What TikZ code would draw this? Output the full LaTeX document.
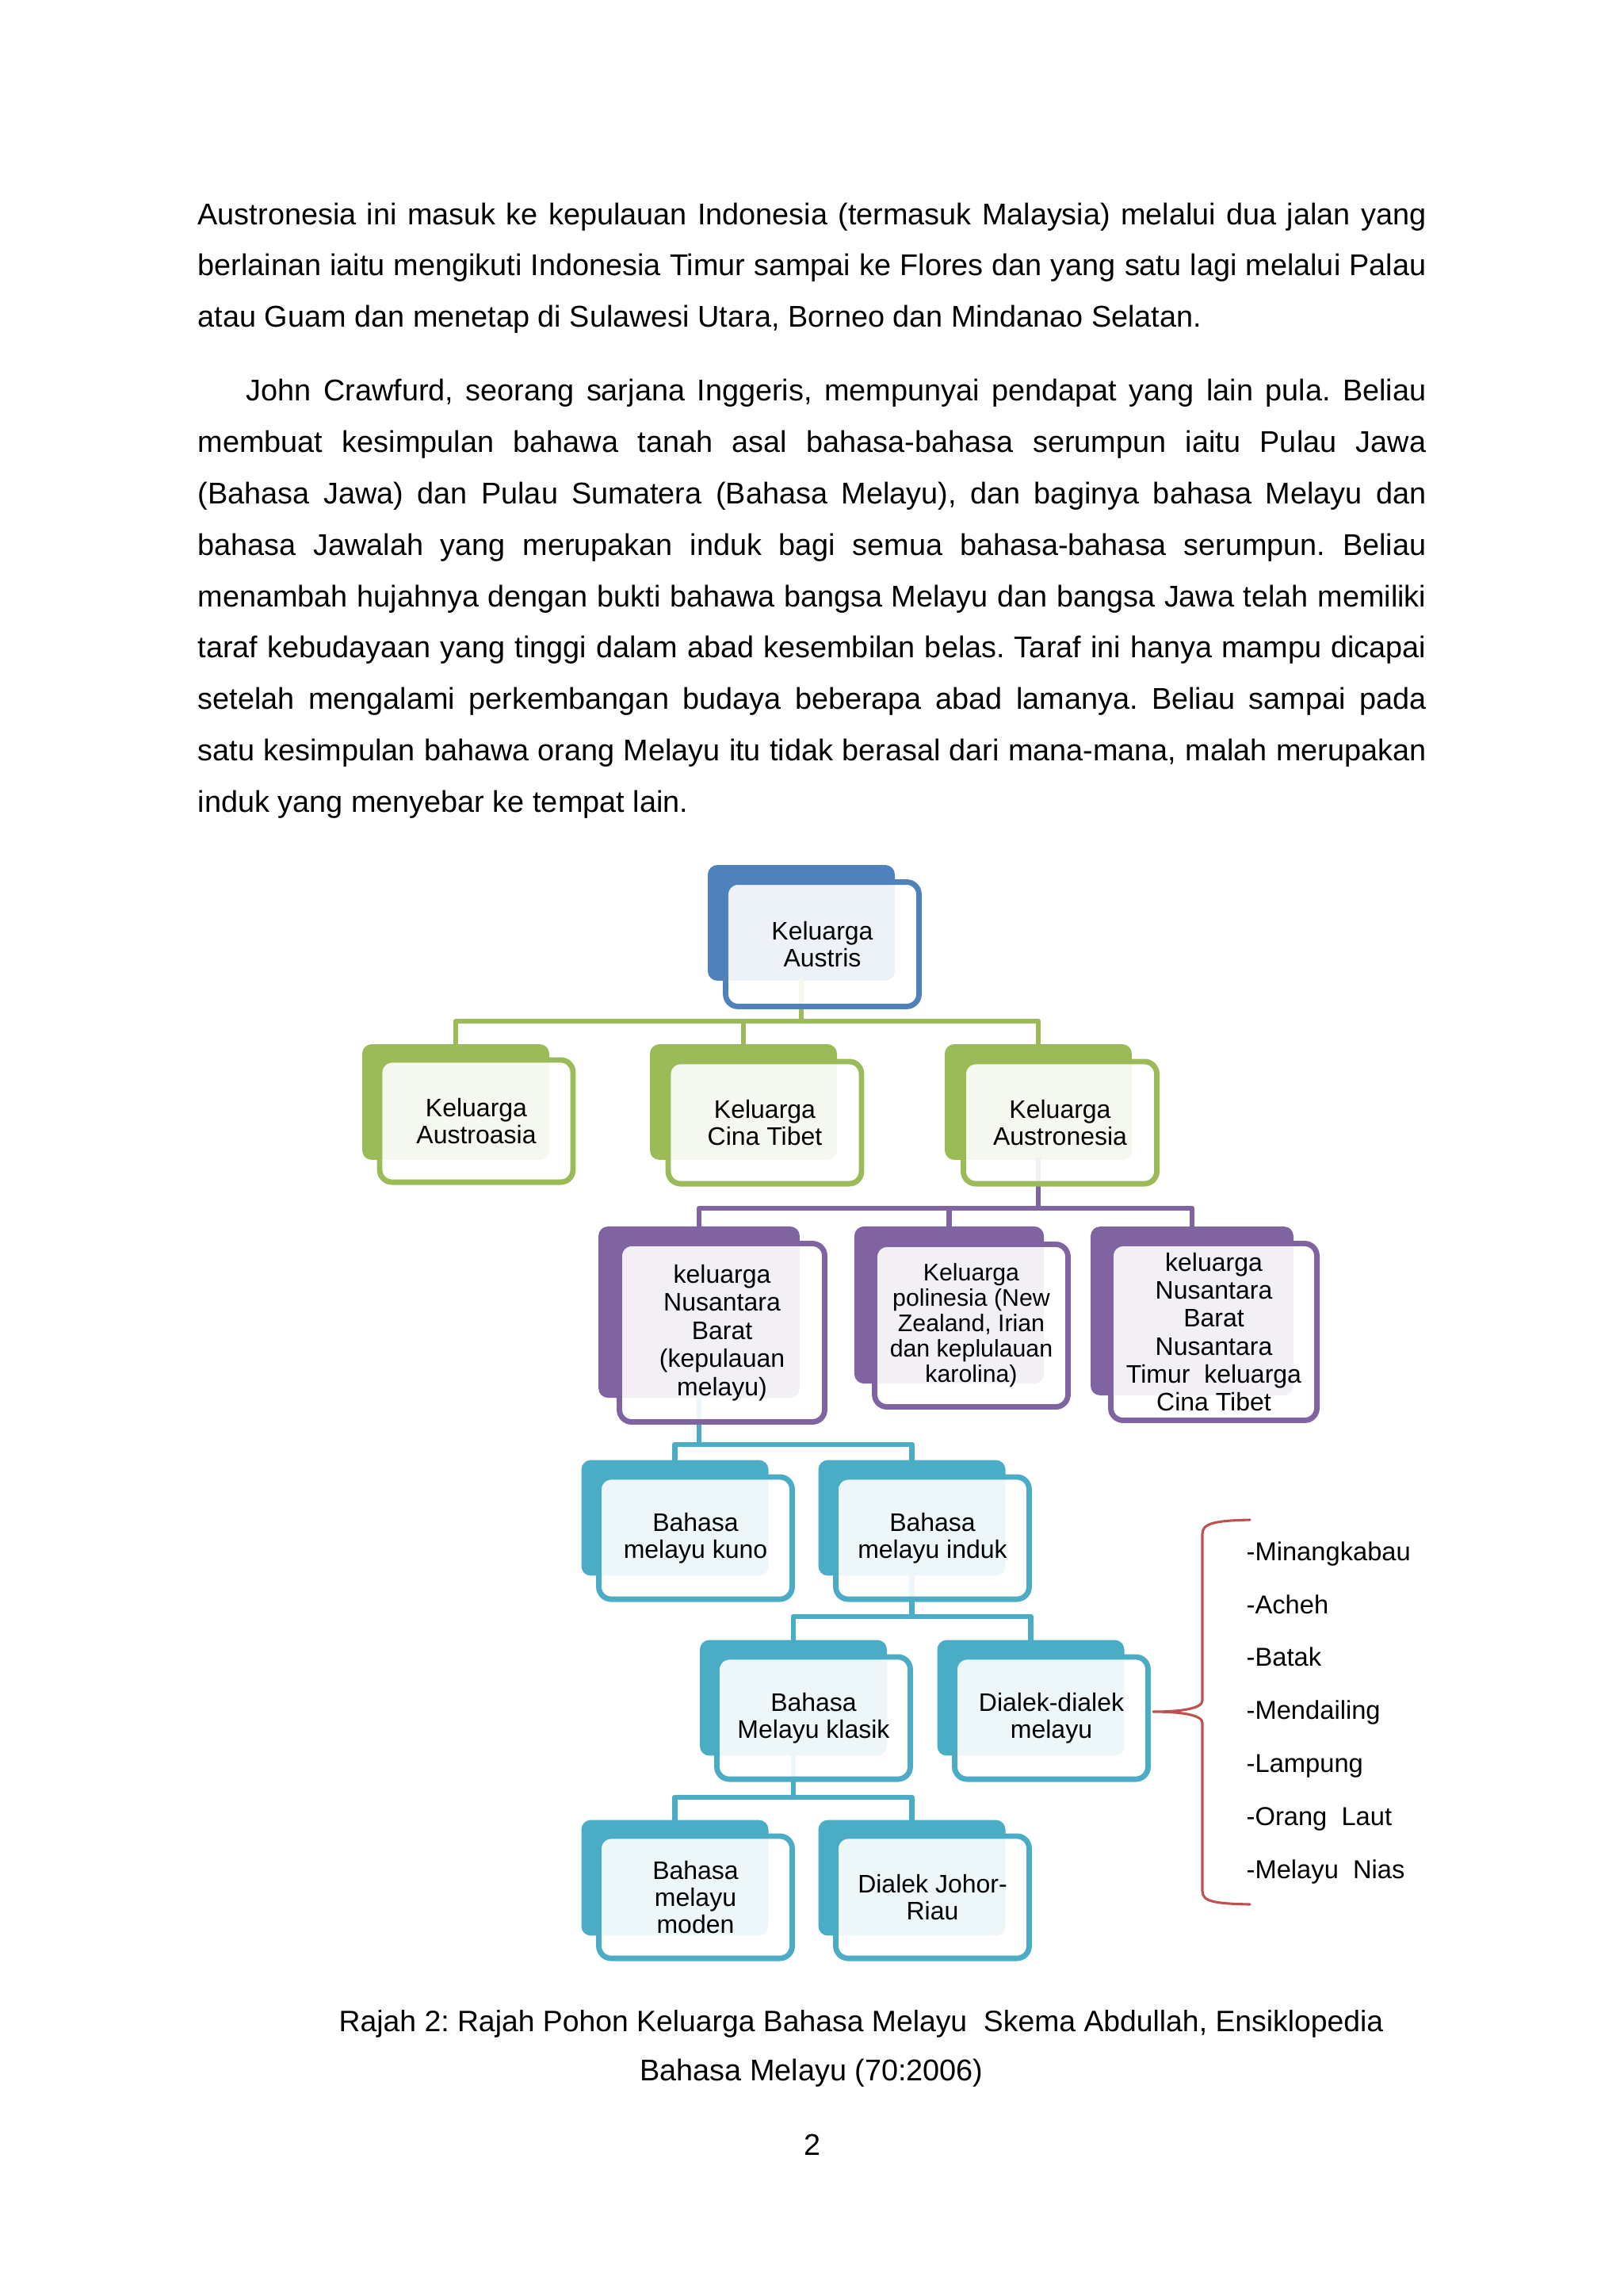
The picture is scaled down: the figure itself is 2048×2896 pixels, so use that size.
\documentclass[tikz,border=0pt]{standalone}
\usepackage{fontspec}
\setmainfont{Liberation Sans}
\usepackage{tikz}
\usetikzlibrary{positioning}
\definecolor{austblue}{rgb}{0.3098,0.5059,0.7412}
\definecolor{famgreen}{rgb}{0.6078,0.7333,0.3490}
\definecolor{nusviolet}{rgb}{0.5020,0.3922,0.6353}
\definecolor{melaqua}{rgb}{0.2941,0.6745,0.7765}
\definecolor{dialred}{rgb}{0.7529,0.3137,0.3020}
\frenchspacing
\begin{document}
\begin{tikzpicture}[line cap=round,line join=round,x=0.29066pt,y=-0.29066pt,
  bodyline/.style={anchor=base west,inner sep=0pt,font=\fontsize{11}{13}\selectfont},
  backbox/.style={fill=#1,rounded corners=3.5pt,inner sep=0pt,minimum width=68.6pt,minimum height=42.4pt},
  frontbox/.style={draw=#1,line width=2pt,fill=white,fill opacity=0.9,text opacity=1,rounded corners=4.5pt,inner sep=0pt,minimum width=70.9pt,minimum height=44.8pt,align=center,font=\fontsize{9.3}{10}\selectfont},
  link/.style={draw=#1,line width=2pt,line cap=rect},
  dialitem/.style={anchor=base west,inner sep=0pt,font=\fontsize{9.5}{11}\selectfont}]
\fill[white] (0,0) rectangle (2048,2896);
\useasboundingbox (0,0) rectangle (2048,2896);
% body text
\node[bodyline] (pa1) at (249,283) {\makebox[450.5pt][s]{Austronesia ini masuk ke kepulauan Indonesia (termasuk Malaysia) melalui dua jalan yang}};
\node[bodyline] (pa2) at (249,347.6) {\makebox[450.5pt][s]{berlainan iaitu mengikuti Indonesia Timur sampai ke Flores dan yang satu lagi melalui Palau}};
\node[bodyline] (pa3) at (249,412.2) {atau Guam dan menetap di Sulawesi Utara, Borneo dan Mindanao Selatan.};
\node[bodyline] (pb1) at (310,505) {\makebox[432.8pt][s]{John Crawfurd, seorang sarjana Inggeris, mempunyai pendapat yang lain pula. Beliau}};
\node[bodyline] (pb2) at (249,570) {\makebox[450.5pt][s]{membuat kesimpulan bahawa tanah asal bahasa-bahasa serumpun iaitu Pulau Jawa}};
\node[bodyline] (pb3) at (249,635) {\makebox[450.5pt][s]{(Bahasa Jawa) dan Pulau Sumatera (Bahasa Melayu), dan baginya bahasa Melayu dan}};
\node[bodyline] (pb4) at (249,700) {\makebox[450.5pt][s]{bahasa Jawalah yang merupakan induk bagi semua bahasa-bahasa serumpun. Beliau}};
\node[bodyline] (pb5) at (249,765) {\makebox[450.5pt][s]{menambah hujahnya dengan bukti bahawa bangsa Melayu dan bangsa Jawa telah memiliki}};
\node[bodyline] (pb6) at (249,829.5) {\makebox[450.5pt][s]{taraf kebudayaan yang tinggi dalam abad kesembilan belas. Taraf ini hanya mampu dicapai}};
\node[bodyline] (pb7) at (249,894) {\makebox[450.5pt][s]{setelah mengalami perkembangan budaya beberapa abad lamanya. Beliau sampai pada}};
\node[bodyline] (pb8) at (249,959) {\makebox[450.5pt][s]{satu kesimpulan bahawa orang Melayu itu tidak berasal dari mana-mana, malah merupakan}};
\node[bodyline] (pb9) at (249,1024) {induk yang menyebar ke tempat lain.};
% back boxes
\node[backbox=austblue] (austrisb) at (1011,1164) {};
\node[backbox=famgreen] (austroasiab) at (575,1390) {};
\node[backbox=famgreen] (cinatibetb) at (938,1390) {};
\node[backbox=famgreen] (austronesiab) at (1310,1390) {};
\node[backbox=nusviolet,minimum width=73.8pt,minimum height=62.8pt] (nusbaratb) at (882,1655) {};
\node[backbox=nusviolet,minimum width=69.5pt,minimum height=57.6pt] (polinesiab) at (1197.5,1646) {};
\node[backbox=nusviolet,minimum width=74.4pt,minimum height=61.9pt] (nustimurb) at (1504,1653.5) {};
\node[backbox=melaqua] (kunob) at (851.5,1914.5) {};
\node[backbox=melaqua] (indukb) at (1150.5,1914.5) {};
\node[backbox=melaqua] (klasikb) at (1001,2141.5) {};
\node[backbox=melaqua] (dialekb) at (1300.5,2141.5) {};
\node[backbox=melaqua] (modenb) at (851.5,2368.5) {};
\node[backbox=melaqua] (johorb) at (1150.5,2368.5) {};
% connectors
\coordinate (lvla) at (0,1288);
\coordinate (lvlb) at (0,1524);
\coordinate (lvlc) at (0,1822);
\coordinate (lvld) at (0,2039);
\coordinate (lvle) at (0,2267);
\draw[link=famgreen] (austrisb.south) -- (austrisb.south |- lvla) -| (austroasiab.north);
\draw[link=famgreen] (austrisb.south) -- (austrisb.south |- lvla) -| (cinatibetb.north);
\draw[link=famgreen] (austrisb.south) -- (austrisb.south |- lvla) -| (austronesiab.north);
\draw[link=nusviolet] (austronesiab.south) -- (austronesiab.south |- lvlb) -| (nusbaratb.north);
\draw[link=nusviolet] (austronesiab.south) -- (austronesiab.south |- lvlb) -| (polinesiab.north);
\draw[link=nusviolet] (austronesiab.south) -- (austronesiab.south |- lvlb) -| (nustimurb.north);
\draw[link=melaqua] (nusbaratb.south) -- (nusbaratb.south |- lvlc) -| (kunob.north);
\draw[link=melaqua] (nusbaratb.south) -- (nusbaratb.south |- lvlc) -| (indukb.north);
\draw[link=melaqua] (indukb.south) -- (indukb.south |- lvld) -| (klasikb.north);
\draw[link=melaqua] (indukb.south) -- (indukb.south |- lvld) -| (dialekb.north);
\draw[link=melaqua] (klasikb.south) -- (klasikb.south |- lvle) -| (modenb.north);
\draw[link=melaqua] (klasikb.south) -- (klasikb.south |- lvle) -| (johorb.north);
% front boxes
\node[frontbox=austblue,minimum height=45.6pt] (austris) at (1037.5,1191) {Keluarga\\Austris};
\node[frontbox=famgreen] (austroasia) at (601,1414) {Keluarga\\Austroasia};
\node[frontbox=famgreen] (cinatibet) at (965,1416) {Keluarga\\Cina Tibet};
\node[frontbox=famgreen] (austronesia) at (1337.5,1416) {Keluarga\\Austronesia};
\node[frontbox=nusviolet,minimum width=75.3pt,minimum height=65.4pt,font=\fontsize{9.3}{10.3}\selectfont] (nusbarat) at (911,1681) {keluarga\\Nusantara\\Barat\\(kepulauan\\melayu)};
\node[frontbox=nusviolet,minimum height=59.6pt,font=\fontsize{8.8}{9.3}\selectfont] (polinesia) at (1225.5,1672) {Keluarga\\polinesia (New\\Zealand, Irian\\dan keplulauan\\karolina)};
\node[frontbox=nusviolet,minimum width=75.6pt,minimum height=64.8pt,font=\fontsize{9.3}{10.2}\selectfont] (nustimur) at (1531.5,1680) {keluarga\\Nusantara\\Barat\\Nusantara\\Timur\ \ keluarga\\Cina Tibet};
\node[frontbox=melaqua] (kuno) at (877.5,1940) {Bahasa\\melayu kuno};
\node[frontbox=melaqua] (induk) at (1176.5,1940) {Bahasa\\melayu induk};
\node[frontbox=melaqua] (klasik) at (1026.5,2167) {Bahasa\\Melayu klasik};
\node[frontbox=melaqua] (dialek) at (1326.5,2167) {Dialek-dialek\\melayu};
\node[frontbox=melaqua] (moden) at (877.5,2393) {Bahasa\\melayu\\moden};
\node[frontbox=melaqua] (johor) at (1176.5,2393) {Dialek Johor-\\Riau};
% brace and dialects
\draw[dialred,line width=0.9pt] (1577,1917) .. controls (1530,1918) and (1517,1922) .. (1517,1935) -- (1517,2145) .. controls (1517,2155) and (1490,2159) .. (1455,2159) .. controls (1490,2159) and (1517,2163) .. (1517,2173) -- (1517,2385) .. controls (1517,2398) and (1530,2401) .. (1577,2402);
\node[dialitem] (minang) at (1572,1968) {-Minangkabau};
\node[dialitem] (acheh) at (1572,2035) {-Acheh};
\node[dialitem] (batak) at (1572,2101.5) {-Batak};
\node[dialitem] (mendailing) at (1572,2168) {-Mendailing};
\node[dialitem] (lampung) at (1572,2235) {-Lampung};
\node[dialitem] (oranglaut) at (1572,2302) {-Orang\ \ Laut};
\node[dialitem] (nias) at (1572,2369) {-Melayu\ \ Nias};
% caption
\node[bodyline,font=\fontsize{10.85}{13}\selectfont] (capa) at (427,2562) {Rajah 2: Rajah Pohon Keluarga Bahasa Melayu\ \ Skema Abdullah, Ensiklopedia};
\node[bodyline,anchor=base] (capb) at (1024,2624) {Bahasa Melayu (70:2006)};
\node[bodyline,anchor=base] (pagenum) at (1025,2718) {2};
\end{tikzpicture}
\end{document}
